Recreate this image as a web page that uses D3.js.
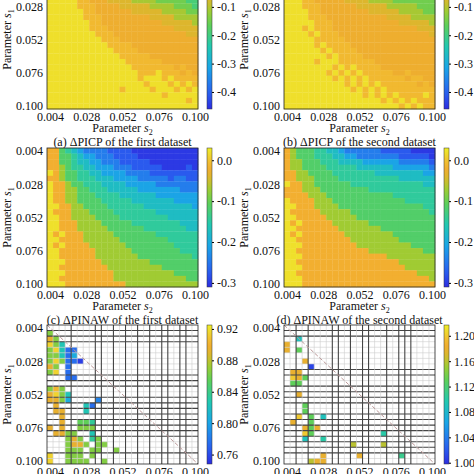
<!DOCTYPE html>
<html><head><meta charset="utf-8">
<script src="https://cdn.jsdelivr.net/npm/d3@7"></script>
<style>body{margin:0;background:#fff}text{font-family:"Liberation Serif",serif}</style>
</head><body><svg id="c" width="474" height="474"></svg>
<script>
const tickLabels = ["0.004","0.028","0.052","0.076","0.100"];
const tickIdx = [0,6,12,18,24];
// code digit -> value, per panel
const levelsA = [-0.40,-0.32,-0.25,-0.19,-0.15,-0.11,-0.07,-0.045,-0.025,0.015];
const gridA = ["9998777655443333322222222","9998877665544433333322222","9998877766554444333333322","9999877766655544443333333","9999887776665555444443333","9999988777666655554444433","9999988877776666655554443","9999998877777766666555544","9999998887777777766665555","9999999887777777777666665","9999999888777777777776666","9999999988877777777777766","9999999998887777777777777","9999999999888877777777777","9999999999988887777777777","9999999999998888877777777","9999999999999888888777777","9999999999999988888887877","9999999999999998889888787","9999999999999998999898888","9999999999999999899989898","9999999999998999989998989","9999999999999999999899999","9999999999999999999999989","9999999999999999999999999"];
const gridB = ["9987776655443333222222222","9987777665544433333322222","9988777766554444333333322","9998777766655544443333333","9998877776665555444443333","9998877777666655554444444","9998887777776666655555444","9999887777777766666555544","9999888777777777766665555","9999988877777777777666665","9998988877777777777777666","9999898887777777777777776","9999988888777777777777777","9999989888877777777777777","9999998988887777777777777","9999999898888777777777777","9999989998888887777777777","9999999989898888777777777","9999999898989888887787777","9999999989898988888878877","9999999999898989888888787","9999999999989898988888888","9999999999999898989888898","9999999999999999898989888","9999999999999999999898988"];
const levelsC = [-0.30,-0.275,-0.245,-0.21,-0.175,-0.145,-0.115,-0.07,-0.015,0.02];
const gridC = ["8865432222111100000000000","8866543322211110000000000","8866544332221111100000000","8876554433322211111000010","9876655443333222211111111","8876655544433332222212211","9887665554444333332222222","9887766555444443333333222","9887766655554444443333333","9887766665555544444443333","9988776666555555444444443","9888777666655555554444444","9988777766665555555544444","9988877776666655555555444","9988877777666666555555544","9898887777766666665555555","9988887777776666666655555","9898888777777666666665555","9988888877777766666666555","9988888877777776666666665","9998888887777777766666666","9988888888777777777666666","9998888888877777777776666","9988888888877777777777766","9998888888888777777777777"];
const gridD = ["8766655443222222111110000","8766655544332222222111110","8776665554444333333222221","8776666555554444443333332","8877666655555554444444433","8877766665555555555444444","9887766666655555555555544","8887776666666655555555555","8888777666666666665555555","9888877766666666666655555","9988877776666666666666655","9888887777766666666666665","9988888777776666666666666","9898888877777766666666666","9988888887777777666666666","9898888888777777776666666","9988888888877777777666666","9998888888887777777776666","9988888888888877777777766","9998888888888888877777777","9988888888888888888777777","9998888888888888888877777","9988888888888888888888777","9998888888888888888888887","9998888888888888888888888"];
// sparse panels: [row, col, value]
const cellsE = [[1,0,0.865],[2,0,0.895],[2,1,0.865],[3,0,0.915],[3,1,0.865],[3,2,0.825],[4,0,0.865],[4,1,0.915],[4,2,0.825],[4,3,0.775],[4,4,0.775],[5,0,0.865],[5,1,0.865],[5,2,0.825],[5,3,0.775],[5,4,0.805],[6,0,0.865],[6,1,0.915],[6,2,0.865],[6,3,0.775],[6,4,0.775],[6,5,0.755],[7,0,0.895],[7,1,0.865],[7,3,0.775],[8,0,0.865],[8,1,0.915],[8,3,0.775],[9,3,0.775],[9,4,0.775],[11,0,0.865],[11,1,0.905],[11,2,0.865],[12,0,0.895],[12,1,0.915],[12,2,0.865],[12,3,0.825],[13,0,0.895],[13,1,0.895],[13,2,0.865],[13,3,0.805],[13,8,0.785],[14,1,0.895],[14,6,0.825],[14,7,0.775],[15,1,0.895],[15,2,0.895],[15,6,0.825],[16,2,0.895],[17,2,0.895],[17,5,0.855],[17,6,0.855],[17,7,0.835],[18,0,0.895],[18,2,0.895],[18,5,0.865],[18,6,0.865],[18,7,0.865],[19,1,0.895],[19,2,0.895],[19,3,0.865],[19,4,0.865],[19,7,0.825],[20,3,0.865],[20,4,0.895],[20,5,0.865],[20,7,0.835],[20,8,0.865],[21,3,0.865],[21,4,0.895],[21,5,0.895],[21,6,0.865],[21,8,0.865],[21,9,0.865],[22,3,0.865],[22,4,0.865],[22,5,0.865],[22,7,0.865],[22,8,0.865],[22,11,0.865],[23,0,0.915],[23,3,0.865],[23,4,0.865],[23,5,0.865],[23,7,0.865],[24,0,0.915],[24,3,0.865],[24,4,0.865],[24,5,0.865],[24,6,0.865],[24,9,0.865]];
const cellsF = [[2,2,1.09],[3,0,1.18],[4,0,1.18],[4,2,1.13],[6,3,1.18],[7,4,1.01],[8,1,1.18],[8,2,1.18],[9,1,1.20],[9,2,1.18],[9,3,1.13],[10,1,1.13],[10,2,1.13],[12,2,1.18],[14,3,1.13],[15,3,1.13],[16,2,1.20],[16,4,1.13],[16,6,1.09],[17,1,1.18],[17,4,1.13],[18,3,1.18],[18,4,1.13],[18,5,1.18],[19,3,1.20],[19,4,1.13],[19,16,1.10],[20,3,1.09],[20,6,1.10],[21,11,1.16],[21,16,1.16],[23,12,1.18],[23,19,1.11],[23,6,1.18],[24,4,1.16],[24,5,1.18],[24,6,1.18]];
const darkRowsE = [1,2,3,9,10,11,13,14,15,16,17,18,19,20,23];
const darkColsE = [4,8,9,11,13,15,17,19,20,22,23];
const darkRowsF = [1,2,8,9,11,12,13,14,16,17,18,19,20,21,22,23];
const darkColsF = [2,4,8,9,11,13,14,17,19,20,21];

const cmap = d3.scaleLinear()
  .domain([0,0.12,0.3,0.45,0.6,0.7,0.78,0.86,0.93,1])
  .range(["#2c2ce0","#2a62f0","#1aa6e6","#22c8b0","#5ccf5a","#9ccc34","#d8b82c","#f2ac30","#f0cc30","#eeee28"]).clamp(true);

const svg = d3.select("#c");
const W = 151, H = 139;
const panels = [
 {x:47,y:-30,cb:207,dom:[-0.46,0.03],ticks:[-0.1,-0.2,-0.3,-0.4],fmt:d3.format(".1f"),grid:gridA,lev:levelsA,cap:"(a) ΔPICP of the first dataset"},
 {x:284,y:-30,cb:444,dom:[-0.46,0.03],ticks:[-0.1,-0.2,-0.3,-0.4],fmt:d3.format(".1f"),grid:gridB,lev:levelsA,cap:"(b) ΔPICP of the second dataset"},
 {x:47,y:148,cb:207,dom:[-0.31,0.03],ticks:[0,-0.1,-0.2,-0.3],fmt:d3.format(".1f"),grid:gridC,lev:levelsC,cap:"(c) ΔPINAW of the first dataset"},
 {x:284,y:148,cb:444,dom:[-0.31,0.03],ticks:[0,-0.1,-0.2,-0.3],fmt:d3.format(".1f"),grid:gridD,lev:levelsC,cap:"(d) ΔPINAW of the second dataset"},
 {x:47,y:325,cb:207,dom:[0.748,0.925],ticks:[0.76,0.80,0.84,0.88,0.92],fmt:d3.format(".2f"),cells:cellsE,dr:darkRowsE,dc:darkColsE},
 {x:284,y:325,cb:444,dom:[0.998,1.217],ticks:[1.00,1.04,1.08,1.12,1.16,1.20],fmt:d3.format(".2f"),cells:cellsF,dr:darkRowsF,dc:darkColsF}
];
const fmtNeg = f => v => f(v).replace("−","-");
const idx = d3.range(25);
panels.forEach((p,pi)=>{
  const g = svg.append("g");
  const x = d3.scaleBand().domain(idx).range([p.x,p.x+W]);
  const y = d3.scaleBand().domain(idx).range([p.y,p.y+H]);
  const c = d3.scaleLinear().domain(p.dom).range([0,1]);
  if(p.grid){
    const cells=[];
    p.grid.forEach((s,r)=>s.split("").forEach((ch,k)=>cells.push([r,k,p.lev[+ch]])));
    g.selectAll("rect.c").data(cells).join("rect")
      .attr("x",d=>x(d[1])).attr("y",d=>y(d[0])).attr("width",x.bandwidth()+0.3).attr("height",y.bandwidth()+0.3)
      .attr("fill",d=>cmap(c(d[2])));
  } else {
    g.append("rect").attr("x",p.x).attr("y",p.y).attr("width",W).attr("height",H).attr("fill","#fff");
    g.selectAll("rect.c").data(p.cells).join("rect")
      .attr("x",d=>x(d[1])).attr("y",d=>y(d[0])).attr("width",x.bandwidth()).attr("height",y.bandwidth())
      .attr("fill",d=>cmap(c(d[2])));
    const b = d3.range(1,25);
    g.selectAll("line.h").data(b).join("line")
      .attr("x1",p.x).attr("x2",p.x+W).attr("y1",d=>y(d)).attr("y2",d=>y(d))
      .attr("stroke",d=>p.dr.includes(d)?"#444":"#ccc").attr("stroke-width",d=>p.dr.includes(d)?1.1:0.6);
    g.selectAll("line.v").data(b).join("line")
      .attr("y1",p.y).attr("y2",p.y+H).attr("x1",d=>x(d)).attr("x2",d=>x(d))
      .attr("stroke",d=>p.dc.includes(d)?"#444":"#ccc").attr("stroke-width",d=>p.dc.includes(d)?1.1:0.6);
    g.append("line").attr("x1",p.x).attr("y1",p.y).attr("x2",p.x+W).attr("y2",p.y+H)
      .attr("stroke","#b99").attr("stroke-width",1).attr("stroke-dasharray","4,2");
  }
  g.append("rect").attr("x",p.x).attr("y",p.y).attr("width",W).attr("height",H).attr("fill","none").attr("stroke","#222").attr("stroke-width",0.8);
  const half = x.bandwidth()/2;
  const ax = d3.axisBottom(d3.scaleLinear().domain([0,24]).range([p.x+half,p.x+W-half]))
    .tickValues(tickIdx).tickFormat((d,i)=>tickLabels[i]).tickSize(0).tickPadding(3);
  const ay = d3.axisLeft(d3.scaleLinear().domain([0,24]).range([p.y+half,p.y+H-half]))
    .tickValues(tickIdx).tickFormat((d,i)=>tickLabels[i]).tickSize(0).tickPadding(4);
  const gx = g.append("g").attr("transform",`translate(0,${p.y+H})`).call(ax);
  const gy = g.append("g").attr("transform",`translate(${p.x},0)`).call(ay);
  [gx,gy].forEach(a=>{a.select(".domain").remove();a.selectAll("text").attr("font-size",12).attr("fill","#111").attr("font-family","Liberation Serif");});
  const yt = g.append("text").attr("transform",`translate(${p.x-36},${p.y+H/2}) rotate(-90)`).attr("text-anchor","middle").attr("font-size",12).attr("fill","#111");
  yt.append("tspan").text("Parameter ");
  yt.append("tspan").attr("font-style","italic").text("s");
  yt.append("tspan").attr("font-size",8).attr("dy",3).text("1");
  const xt = g.append("text").attr("x",p.x+W/2).attr("y",p.y+H+23).attr("text-anchor","middle").attr("font-size",12).attr("fill","#111");
  xt.append("tspan").text("Parameter ");
  xt.append("tspan").attr("font-style","italic").text("s");
  xt.append("tspan").attr("font-size",8).attr("dy",3).text("2");
  if(p.cap) g.append("text").attr("x",p.x+W/2).attr("y",p.y+H+37).attr("text-anchor","middle").attr("font-size",12).attr("fill","#111").text(p.cap);
  const gid="gr"+pi;
  const lg = svg.append("defs").append("linearGradient").attr("id",gid).attr("x1",0).attr("y1",1).attr("x2",0).attr("y2",0);
  d3.range(0,1.001,0.05).forEach(t=>lg.append("stop").attr("offset",t).attr("stop-color",cmap(t)));
  g.append("rect").attr("x",p.cb).attr("y",p.y).attr("width",5).attr("height",H).attr("fill",`url(#${gid})`).attr("stroke","#333").attr("stroke-width",0.5);
  const cs = d3.scaleLinear().domain(p.dom).range([p.y+H,p.y]);
  const ac = g.append("g").attr("transform",`translate(${p.cb+5},0)`).call(d3.axisRight(cs).tickValues(p.ticks).tickFormat(fmtNeg(p.fmt)).tickSize(2).tickPadding(3));
  ac.select(".domain").remove();
  ac.selectAll("text").attr("font-size",12).attr("fill","#111").attr("font-family","Liberation Serif");
});
</script></body></html>
